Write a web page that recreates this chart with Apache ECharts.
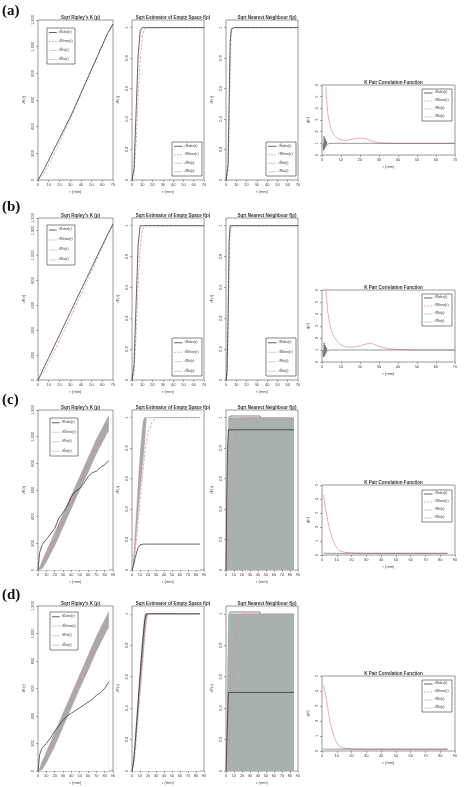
<!DOCTYPE html>
<html><head><meta charset="utf-8">
<script src="https://cdn.jsdelivr.net/npm/echarts@6/dist/echarts.min.js"></script>
<style>html,body{margin:0;padding:0;background:#fff}#c{width:474px;height:787px}</style>
</head><body><div id="c"></div>
<script>
// ---------- data ----------
const rK = [0,5,10,15,20,25,30,35,40,45,50,55,60,65,70];
const aK_obs = [0,70,150,230,310,390,470,560,650,740,830,920,1010,1100,1170];
const aK_theo = [0,45,115,195,280,370,455,545,640,735,825,920,1010,1100,1170];
const bK_obs = [0,90,180,270,360,450,540,630,720,810,900,990,1080,1170,1250];
const bK_theo = [0,60,140,225,315,405,495,590,685,780,875,970,1065,1160,1250];
const rF = [0,2,4,6,8,10,12,15,20,40,70];
const aF_obs = [0,0.08,0.45,0.82,0.98,1,1,1,1,1,1];
const aF_theo = [0,0.03,0.25,0.55,0.8,0.94,0.99,1,1,1,1];
const bF_obs = [0,0.1,0.5,0.88,1,1,1,1,1,1,1];
const bF_theo = [0,0.04,0.3,0.62,0.86,0.97,1,1,1,1,1];
const rG = [0,1,2,3,4,5,6,8,70];
const aG_obs = [0,0,0.1,0.5,0.9,0.99,1,1,1];
const aG_theo = [0,0,0.05,0.3,0.72,0.95,1,1,1];
const bG_obs = [0,0.05,0.4,0.9,1,1,1,1,1];
const bG_theo = [0,0.02,0.25,0.7,0.95,1,1,1,1];
const rP = [2,3,4,5,6,8,10,13,16,20,23,26,30,35,40,50,60,70];
const aP_red = [5.8,3.6,2.7,2.1,1.8,1.45,1.3,1.25,1.35,1.45,1.4,1.2,1.05,1,1,1,1,1];
const bP_red = [6.2,4.2,3.2,2.6,2.2,1.7,1.4,1.25,1.25,1.35,1.5,1.55,1.3,1.1,1.05,1,1,1];
const rPb = [0.5,0.8,1.1,1.4,1.7,2.0,2.3,2.6,3,4,70];
const aP_blk = [1,0.4,1.6,0.5,1.4,0.7,1.2,0.9,1.05,1,1];
const rPc = [1,2,3,4,5,6,8,10,12,15,20,30,40,50,60,70,80,85];
const cP_red = [4.3,3.6,3.0,2.4,1.9,1.5,0.9,0.5,0.3,0.2,0.15,0.12,0.12,0.12,0.12,0.12,0.12,0.12];
const dP_red = [4.4,4.0,3.4,2.8,2.2,1.7,1.0,0.55,0.3,0.18,0.14,0.12,0.12,0.12,0.12,0.12,0.12,0.12];
const cP_blk = [0.15,0.12,0.12,0.12,0.12,0.12,0.12,0.12,0.12,0.12,0.12,0.12,0.12,0.12,0.12,0.12,0.12,0.12];
const rKc = [0,2,5,10,15,20,25,30,35,40,45,50,55,60,65,70,75,80,85];
const cK_obs = [0,130,190,230,270,310,390,430,480,550,590,610,650,700,730,740,770,790,820];
const cK_lo = [0,0,10,60,120,180,250,320,390,460,530,600,665,730,800,870,930,990,1050];
const cK_hi = [0,20,70,140,210,280,350,420,490,560,630,700,770,840,910,980,1040,1100,1160];
const cK_theo = [0,10,40,100,165,230,300,370,440,510,580,650,718,785,855,925,985,1045,1105];
const dK_obs = [0,120,170,200,240,290,330,370,400,420,440,460,480,500,520,550,570,600,650];
const rFc = [0,2,4,6,8,10,12,14,16,18,20,25,30,40,85];
const cF_obs = [0,0.03,0.08,0.12,0.15,0.165,0.17,0.17,0.17,0.17,0.17,0.17,0.17,0.17,0.17];
const cF_lo = [0,0.05,0.15,0.28,0.4,0.52,0.62,0.73,0.85,1,1,1,1,1,1];
const cF_hi = [0,0.08,0.25,0.42,0.6,0.75,0.88,0.98,1,1,1,1,1,1,1];
const cF_red = [0,0.04,0.12,0.22,0.33,0.45,0.56,0.66,0.76,0.84,0.9,0.97,1,1,1];
const dF_obs = [0,0.06,0.18,0.32,0.46,0.6,0.74,0.86,0.96,1,1,1,1,1,1];
const dF_lo = [0,0.04,0.14,0.26,0.38,0.5,0.62,0.74,0.86,0.97,1,1,1,1,1];
const dF_hi = [0,0.07,0.2,0.35,0.5,0.64,0.78,0.9,1,1,1,1,1,1,1];
const dF_red = [0,0.04,0.12,0.24,0.36,0.5,0.62,0.74,0.86,0.95,1,1,1,1,1];
const rGc = [0,1,2,3,5,8,12,15,20,30,85];
const cG_obs = [0,0.5,0.8,0.92,0.92,0.92,0.92,0.92,0.92,0.92,0.92];
const cG_hi = [0,0,0,1,1,1,1,1,1,1,1];
const cG_red = [0,0,0,0.05,0.25,0.55,0.85,0.97,1,1,1];
const dG_obs = [0,0,0,0.5,0.5,0.5,0.5,0.5,0.5,0.5,0.5];
const titles = ["Sqrt Ripley's K (\u03c1)","Sqrt Estimator of Empty Space f(\u03c1)","Sqrt Nearest Neighbour f(\u03c1)","K Pair Correlation Function"];

// ---------- build ----------
const cols = [[38,75],[132,72],[226,72],[322,133]];
const rows = [
  {top:20,h:160,pt:85,ph:70},
  {top:218,h:162,pt:290,ph:72},
  {top:410,h:160,pt:485,ph:70},
  {top:606,h:165,pt:676,ph:75}];
const grids=[],xAxes=[],yAxes=[],series=[],tl=[],graphic=[];
const z=(xs,ys)=>xs.map((x,i)=>[x,ys[i]]);
function panel(ri,ci,xmax,xint,ymax,yint,list){
  const R=rows[ri],C=cols[ci];
  const top = ci===3?R.pt:R.top, h = ci===3?R.ph:R.h;
  const g=grids.length;
  grids.push({left:C[0],top:top,width:C[1],height:h,show:true,borderColor:'#555',borderWidth:0.6,backgroundColor:'#fff'});
  const lab={fontSize:4,color:'#444',margin:3};
  xAxes.push({gridIndex:g,type:'value',min:0,max:xmax,interval:xint,axisLine:{show:false},axisTick:{length:2,lineStyle:{color:'#555',width:0.5}},axisLabel:lab,splitLine:{show:false},name:'r (mm)',nameLocation:'middle',nameGap:10,nameTextStyle:{fontSize:4,color:'#444'}});
  yAxes.push({gridIndex:g,type:'value',min:0,max:ymax,interval:yint,axisLine:{show:false},axisTick:{length:2,lineStyle:{color:'#555',width:0.5}},axisLabel:Object.assign({rotate:90,showMaxLabel:ymax===1.05?false:null},lab),splitLine:{show:false},name:ci===3?'g(r)':(ci===0?'\u221aK(r)':'\u221aF(r)'),nameLocation:'middle',nameGap:12,nameTextStyle:{fontSize:4,color:'#444'}});
  tl.push({text:titles[ci],left:C[0]+C[1]/2,top:top-10,textAlign:'center',textStyle:{fontSize:4.5,fontWeight:'bold',color:'#333'}});
  list.forEach(s=>{
    const o={type:'line',xAxisIndex:g,yAxisIndex:g,data:s.d,symbol:'none',silent:true,animation:false,lineStyle:{color:s.c||'#222',width:s.w||0.7,type:s.dash?'dashed':'solid'},z:s.z||3};
    if(s.fill){o.areaStyle={color:s.fill,opacity:1};o.lineStyle.width=0.3;o.lineStyle.color='#999';}
    series.push(o);
  });
}
function legend(x,y,w,h){
  const ch=[{type:'rect',shape:{x:0,y:0,width:w,height:h},style:{fill:'#fff',stroke:'#333',lineWidth:0.6}}];
  const st=[['#222',0],['#e08aa0',1],['#bbb',0],['#bbb',0]];
  for(let i=0;i<4;i++){
    const yy=h*(i+0.5)/4;
    ch.push({type:'line',shape:{x1:2,y1:yy,x2:w*0.35,y2:yy},style:{stroke:st[i][0],lineWidth:0.7,lineDash:st[i][1]?[2,1]:null}});
    ch.push({type:'text',style:{x:w*0.4,y:yy-2.5,text:['\u221aK\u0302obs(r)','\u221aK\u0302theo(r)','\u221aK\u0302hi(r)','\u221aK\u0302lo(r)'][i],fontSize:3.5,fill:'#333'}});
  }
  graphic.push({type:'group',x:x,y:y,children:ch,z:100});
}
const RED='#e08aa0';
// row a
panel(0,0,70,10,1200,200,[{d:z(rK,aK_theo),c:RED,dash:1},{d:z(rK,aK_obs)}]);
legend(47,28,28,36);
panel(0,1,70,10,1.05,0.2,[{d:z(rF,aF_theo),c:RED,dash:1},{d:z(rF,aF_obs)}]);
legend(172,142,30,34);
panel(0,2,70,10,1.05,0.2,[{d:z(rG,aG_theo),c:RED,dash:1},{d:z(rG,aG_obs)}]);
legend(266,142,30,34);
panel(0,3,70,10,6,1,[{d:z(rP,aP_red),c:RED},{d:z(rPb,aP_blk),c:'#333',w:0.5}]);
legend(422,89,30,32);
// row b
panel(1,0,70,10,1300,200,[{d:z(rK,bK_theo),c:RED,dash:1},{d:z(rK,bK_obs)}]);
legend(47,225,28,40);
panel(1,1,70,10,1.05,0.2,[{d:z(rF,bF_theo),c:RED,dash:1},{d:z(rF,bF_obs)}]);
legend(172,338,30,38);
panel(1,2,70,10,1.05,0.2,[{d:z(rG,bG_theo),c:RED,dash:1},{d:z(rG,bG_obs)}]);
legend(266,338,30,38);
panel(1,3,70,10,6,1,[{d:z(rP,bP_red),c:RED},{d:z(rPb,aP_blk),c:'#333',w:0.5}]);
legend(422,294,30,32);
// row c
panel(2,0,90,10,1200,200,[{d:z(rKc,cK_hi),fill:'#aaa'},{d:z(rKc,cK_lo),fill:'#fff'},{d:z(rKc,cK_theo),c:RED,dash:1},{d:z(rKc,cK_obs)}]);
legend(50,418,28,38);
panel(2,1,90,10,1.05,0.2,[{d:z(rFc,cF_hi),fill:'#aaa'},{d:z(rFc,cF_lo),fill:'#fff'},{d:z(rFc,cF_red),c:RED,dash:1},{d:z(rFc,cF_obs)}]);
legend(168,463,28,38);
panel(2,2,90,10,1.05,0.2,[{d:z(rGc,cG_hi),fill:'#a9b1b0'},{d:z(rGc,cG_red),c:RED,dash:1},{d:z(rGc,cG_obs)}]);
legend(230,416,30,34);
panel(2,3,90,10,5,1,[{d:z(rPc,cP_red),c:RED},{d:z(rPc,cP_blk),c:'#333',w:0.5}]);
legend(422,490,30,32);
// row d
panel(3,0,90,10,1200,200,[{d:z(rKc,cK_hi),fill:'#aaa'},{d:z(rKc,cK_lo),fill:'#fff'},{d:z(rKc,cK_theo),c:RED,dash:1},{d:z(rKc,dK_obs)}]);
legend(50,612,28,38);
panel(3,1,90,10,1.05,0.2,[{d:z(rFc,dF_hi),fill:'#aaa'},{d:z(rFc,dF_lo),fill:'#fff'},{d:z(rFc,dF_red),c:RED,dash:1},{d:z(rFc,dF_obs)}]);
legend(150,614,28,38);
panel(3,2,90,10,1.05,0.2,[{d:z(rGc,cG_hi),fill:'#a9b1b0'},{d:z(rGc,cG_red),c:RED,dash:1},{d:z(rGc,dG_obs)}]);
legend(230,612,30,34);
panel(3,3,90,10,5,1,[{d:z(rPc,dP_red),c:RED},{d:z(rPc,cP_blk),c:'#333',w:0.5}]);
legend(422,680,30,32);
// panel labels
[['(a)',4],['(b)',200],['(c)',393],['(d)',588]].forEach(p=>graphic.push({type:'text',left:2,top:p[1],style:{text:p[0],fontSize:15,fontWeight:'bold',fill:'#111',fontFamily:'Liberation Serif'}}));

const chart=echarts.init(document.getElementById('c'),null,{renderer:'canvas'});
chart.setOption({animation:false,backgroundColor:'#fff',title:tl,grid:grids,xAxis:xAxes,yAxis:yAxes,series:series,graphic:graphic});
</script></body></html>
